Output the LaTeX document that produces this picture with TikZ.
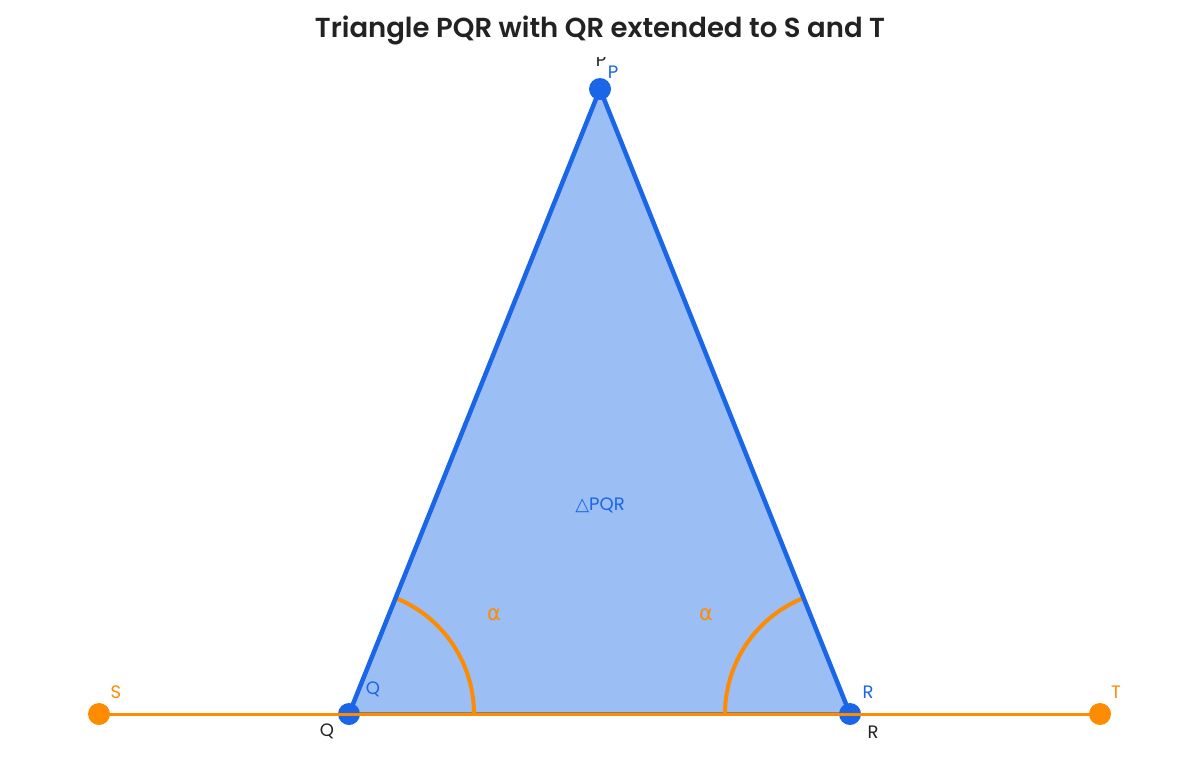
\documentclass[tikz,border=0pt]{standalone}
\usepackage{fontspec}
\usetikzlibrary{calc}
\setmainfont{Poppins}
\newfontfamily\titlefont{Poppins SemiBold}
\newfontfamily\symfont{DejaVu Sans}
\definecolor{triblue}{HTML}{1A66E6}
\definecolor{trifill}{HTML}{9BBEF5}
\definecolor{orng}{HTML}{FF8C00}
\definecolor{ink}{HTML}{222222}
\begin{document}
\begin{tikzpicture}[x=1pt,y=-1pt,
  dot/.style={circle,inner sep=0pt,minimum size=22pt},
  lbl/.style={font=\fontsize{18}{18}\selectfont,inner sep=0pt},
  side/.style={draw=triblue,line width=4.5pt,line cap=round},
  ext/.style={draw=orng,line width=3pt},
  arcst/.style={draw=orng,line width=4pt}]
\useasboundingbox (0,0) rectangle (1200,763);
\fill[white] (0,0) rectangle (1200,763);
\coordinate (P) at (600,89);
\coordinate (Q) at (349,714);
\coordinate (R) at (850,714);
\coordinate (S) at (99,714);
\coordinate (T) at (1100,714);
% clipped black P label
\node[lbl,text=ink,anchor=base] (pblack) at (601,66) {P};
\fill[white] (560,30) rectangle (640,57);
\node[font=\fontsize{27.5}{27.5}\selectfont\titlefont,text=ink] (title) at (600,30) {Triangle PQR with QR extended to S and T};
% triangle
\fill[trifill] (P) -- (Q) -- (R) -- cycle;
\draw[gray,line width=1.5pt] ($(Q)+(0,-1)$) -- ($(R)+(0,-1)$);
\draw[ext] (S) -- (T);
\draw[arcst] ($(Q)+(125,0)$) arc[start angle=0,end angle=-68.1,radius=125];
\draw[arcst] ($(R)+(-125,0)$) arc[start angle=180,end angle=248.1,radius=125];
\draw[side] (Q) -- (P) -- (R);
\node[dot,fill=triblue] (dP) at (P) {};
\node[dot,fill=triblue] (dQ) at (Q) {};
\node[dot,fill=triblue] (dR) at (R) {};
\draw[ext] (dQ.west) -- (dQ.east);
\draw[ext] (dR.west) -- (dR.east);
\node[dot,fill=orng] (dS) at (S) {};
\node[dot,fill=orng] (dT) at (T) {};
% labels
\node[lbl,text=triblue] (lP) at (613,72) {P};
\node[lbl,text=triblue] (lQ) at (373,689) {Q};
\node[lbl,text=ink] (lQb) at (327,731) {Q};
\node[lbl,text=triblue] (lR) at (868,692) {R};
\node[lbl,text=ink] (lRb) at (873,732) {R};
\node[lbl,text=orng] (lS) at (116,692) {S};
\node[lbl,text=orng] (lT) at (1116,692) {T};
\node[lbl,text=orng,font=\fontsize{21}{21}\selectfont] (a1) at (494,615) {\symfont α};
\node[lbl,text=orng,font=\fontsize{21}{21}\selectfont] (a2) at (706,615) {\symfont α};
\node[lbl,text=triblue] (tri) at (600,505) {{\symfont △}PQR};
\end{tikzpicture}
\end{document}
